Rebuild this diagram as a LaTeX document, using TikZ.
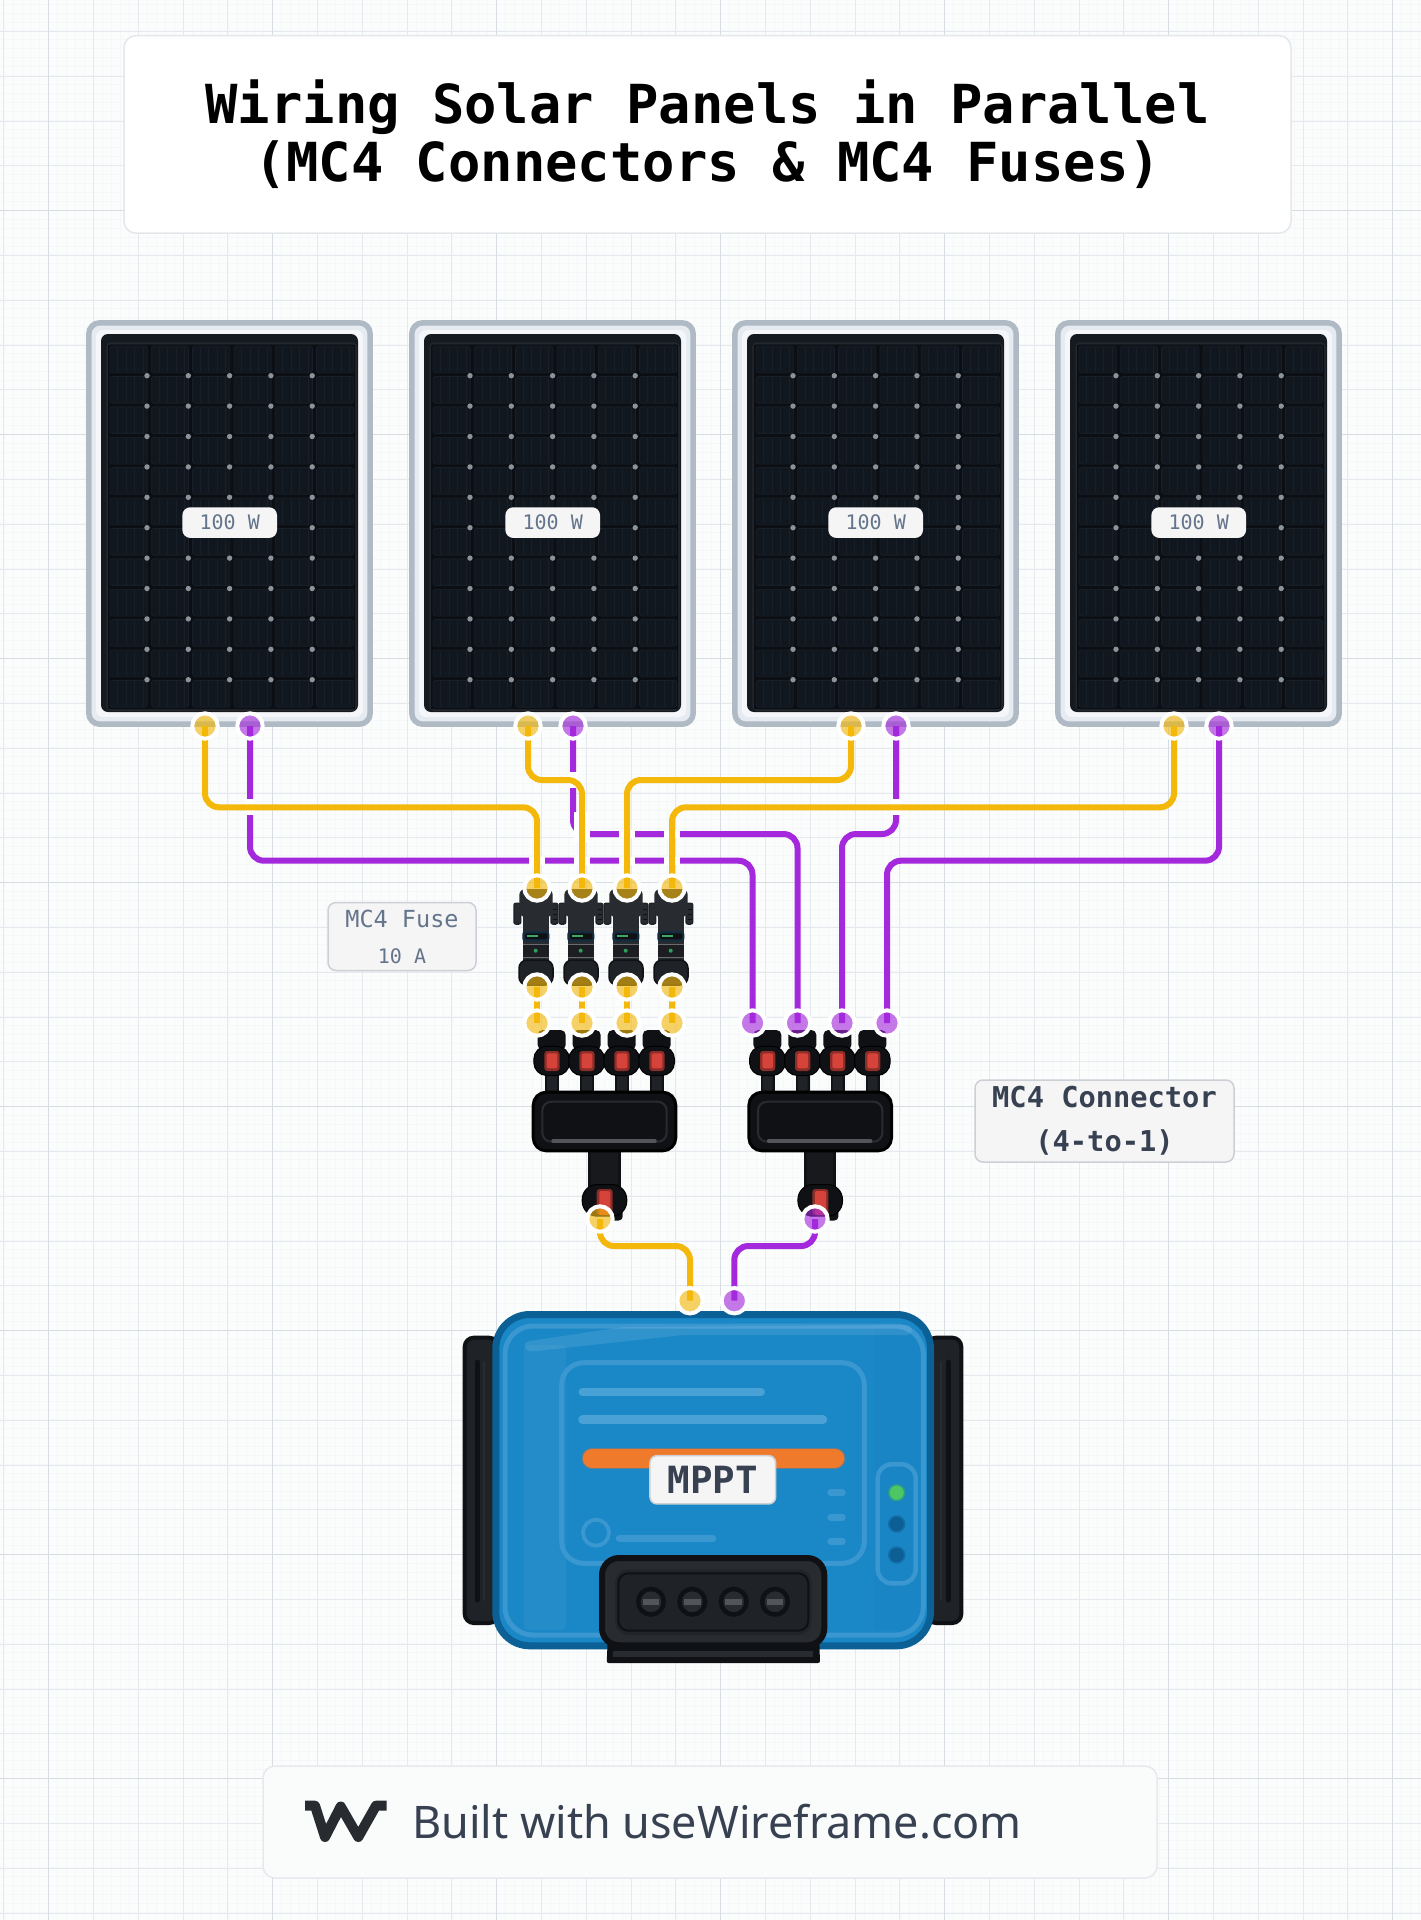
\documentclass[tikz,border=0pt]{standalone}
\usepackage{fontspec}
\setmainfont{Noto Sans}
\setmonofont{DejaVu Sans Mono}
\usetikzlibrary{backgrounds}
\definecolor{wirey}{HTML}{F4B80A}
\definecolor{wirep}{HTML}{A428DC}
\definecolor{slate}{HTML}{64748B}
\definecolor{ink}{HTML}{374151}
\definecolor{blk}{HTML}{0F1114}
\definecolor{blkm}{HTML}{1F2226}
\definecolor{blkb}{HTML}{282B30}
\definecolor{pagebg}{HTML}{FBFCFC}
\definecolor{gmin}{HTML}{F5F7F8}
\definecolor{gmed}{HTML}{E6E9ED}
\definecolor{gmaj}{HTML}{D8DDE3}
\definecolor{frameb}{HTML}{B0BAC4}
\definecolor{framea}{HTML}{E6EBF2}
\definecolor{framec}{HTML}{F4F6FA}
\definecolor{pdark}{HTML}{151A20}
\definecolor{pcell}{HTML}{11171F}
\definecolor{pcellb}{HTML}{181F28}
\definecolor{pframe}{HTML}{23272C}
\definecolor{pgap}{HTML}{0B0E12}
\definecolor{pdot}{HTML}{8A939B}
\definecolor{mblue}{HTML}{1A87C7}
\definecolor{mblueb}{HTML}{0B6096}
\definecolor{mline}{HTML}{3A97D0}
\definecolor{mpill}{HTML}{4AA1D5}
\definecolor{redo}{HTML}{8D2D28}
\definecolor{redi}{HTML}{D5433A}
\definecolor{orbar}{HTML}{EF7A2B}
\definecolor{orbarb}{HTML}{6B7D88}
\definecolor{ledg}{HTML}{4CC764}
\definecolor{ledgb}{HTML}{2A9C8E}
\definecolor{ledd}{HTML}{0D5E93}
\definecolor{boxf}{HTML}{F5F5F6}
\definecolor{boxb}{HTML}{CCD0D5}
\definecolor{fwin}{HTML}{142C3D}
\definecolor{fbar}{HTML}{3FA764}
\definecolor{fdot}{HTML}{2E9F5B}
\tikzset{
  gridmin/.style={draw=gmin,line width=0.6},
  gridmed/.style={draw=gmed,line width=1},
  gridmaj/.style={draw=gmaj,line width=1.4},
  ywire/.style={draw=wirey,line width=6,rounded corners=14},
  pwire/.style={draw=wirep,line width=6,rounded corners=14},
  gapmark/.style={draw=white,line width=10},
  gapwide/.style={draw=white,line width=16},
  termy/.style={circle,inner sep=0,outer sep=0,minimum size=25.4,draw=white,line width=4,fill=wirey,fill opacity=.62},
  termp/.style={circle,inner sep=0,outer sep=0,minimum size=25.4,draw=white,line width=4,fill=wirep,fill opacity=.62},
  tagbox/.style={rectangle,rounded corners=8,draw=boxb,line width=1.5,fill=boxf,inner sep=0,outer sep=0,align=center},
  wattbox/.style={rectangle,rounded corners=8,fill=boxf,text=slate,inner sep=0,outer sep=0,minimum width=94.7,minimum height=30.7,font=\fontsize{20}{24}\selectfont\ttfamily},
  cell/.style={fill=pcell,draw=pcellb,line width=0.8,rounded corners=2.5},
  pill/.style={line cap=round,draw=mpill,line width=6.5}
}
\begin{document}
\begin{tikzpicture}[x=1pt,y=-1pt]
\useasboundingbox (0,0) rectangle (1421,1920);
\node[rectangle,rounded corners=12,draw=gmaj!70!white,line width=1.5,fill=white,inner sep=0,outer sep=0,minimum width=1167,minimum height=197.5,align=center,font=\fontsize{53.8}{58}\selectfont\ttfamily\bfseries] (title) at (707.5,134.4) {Wiring Solar Panels in Parallel\\(MC4 Connectors \& MC4 Fuses)};
\node[rectangle,rounded corners=12,draw=gmed,line width=1.5,fill=gmin!50!white,inner sep=0,outer sep=0,minimum width=894,minimum height=112] (footer) at (710,1822) {};
\node[anchor=base west,inner sep=0,text=ink,font=\fontsize{44.9}{50}\selectfont] (builttext) at (412,1838) {Built with useWireframe.com};
\draw[line width=10,line join=round,draw=blkb] (305,1805.7) -- (315,1805.7) -- (325,1837) -- (340.7,1806.5) -- (358.3,1837) -- (376,1805.7) -- (386.7,1805.7);
\foreach \pn/\px in {1/0,2/323,3/646,4/969} {
  \node[wattbox] (watt\pn) at (229.7+\px,522.6) {100 W};
  \node[termy] (tpy\pn) at (205+\px,726) {};
  \node[termp] (tpp\pn) at (250+\px,726) {};
}
\foreach \i/\fx/\cx in {1/537/752.5,2/582/797.5,3/627/842,4/672/887} {
  \node[termy] (tfi\i) at (\fx,888) {};
  \node[termy] (tfo\i) at (\fx,987) {};
  \node[termy] (tcy\i) at (\fx,1023) {};
  \node[termp] (tcp\i) at (\cx,1023) {};
}
\node[termy] (touty) at (600,1219) {};
\node[termp] (toutp) at (815,1219) {};
\node[termy] (tmy) at (690,1300.7) {};
\node[termp] (tmp) at (734.3,1300.7) {};
\node[tagbox,text=slate,minimum width=148,minimum height=68,font=\fontsize{23.5}{36}\selectfont\ttfamily] (fuselabel) at (402,936.5) {MC4 Fuse\\{\fontsize{20}{36}\selectfont 10 A}};
\node[tagbox,text=ink,minimum width=259,minimum height=82,font=\fontsize{28.7}{44.4}\selectfont\ttfamily\bfseries] (connlabel) at (1104.5,1121) {MC4 Connector\\(4-to-1)};
\node[tagbox,rounded corners=7,text=ink,minimum width=125.7,minimum height=48.3,font=\fontsize{37.5}{40}\selectfont\ttfamily\bfseries] (mpptlabel) at (712.8,1479.8) {MPPT};

\begin{scope}[on background layer]
\fill[pagebg] (0,0) rectangle (1421,1920);
\foreach \k in {0,...,159} \draw[gridmin] (3.9+8.96*\k,0) -- (3.9+8.96*\k,1920);
\foreach \k in {0,...,214} \draw[gridmin] (0,3.9+8.96*\k) -- (1421,3.9+8.96*\k);
\foreach \k in {0,...,31} \draw[gridmed] (3.9+44.8*\k,0) -- (3.9+44.8*\k,1920);
\foreach \k in {0,...,42} \draw[gridmed] (0,31.4+44.8*\k) -- (1421,31.4+44.8*\k);
\foreach \k in {0,...,6} \draw[gridmaj] (48.7+224*\k,0) -- (48.7+224*\k,1920);
\foreach \k in {0,...,7} \draw[gridmaj] (0,210.6+224*\k) -- (1421,210.6+224*\k);

\foreach \px in {0,323,646,969} {
\begin{scope}[shift={(\px,0)}]
\draw[fill=framea,draw=frameb,line width=5.5,rounded corners=11] (88.8,322.8) rectangle (370.2,724.2);
\fill[framec,rounded corners=7] (96,330) rectangle (363,717);
\fill[pdark,rounded corners=7] (101,334) rectangle (358,712);
\draw[pframe,line width=1.5,rounded corners=4] (107,343) rectangle (356,710);
\fill[pgap] (108,345) rectangle (355,709);
\foreach \c in {0,...,5} \foreach \r in {0,...,11} {
  \draw[cell] (110+41.3*\c,346+30.4*\r) rectangle ++(37.3,26.7);
  \foreach \s in {7.5,16,24.5,33} \draw[pcellb,line width=0.6] (110+41.3*\c+\s,347+30.4*\r) -- ++(0,24.7);
}
\foreach \c in {0,...,4} \foreach \r in {0,...,10} \fill[pdot] (147+41.3*\c,375.7+30.4*\r) circle (2.7);
\end{scope}
}

\foreach \fx in {537,582,627,672} {
\begin{scope}[shift={(\fx,0)}]
\draw[fill=blkb,draw=blkm,line width=1.5,rounded corners=2] (-23,903.3) rectangle (-16.3,924);
\draw[fill=blkb,draw=blkm,line width=1.5,rounded corners=2] (14,903.3) rectangle (20.7,924);
\foreach \sy in {909,914,919} \draw[blk,line width=1] (15.5,\sy) -- (19.5,\sy);
\fill[blkb,rounded corners=6] (-17.7,889) rectangle (15.7,917);
\fill[blkb] (-14.3,912) rectangle (12.3,960);
\fill[blkb!70!black] (-14.3,945) rectangle (12.3,957);
\fill[fwin,rounded corners=3] (-14.7,931) rectangle (12.3,941.7);
\fill[blk,rounded corners=2] (-12,933.3) rectangle (10.3,939.3);
\fill[fbar] (-10.3,935) rectangle (1.3,937.3);
\draw[blkb!70!white,line width=1] (-14,944.3) -- (12,944.3);
\draw[blkb!70!white,line width=1] (-14,957.3) -- (12,957.3);
\fill[fdot] (-1.3,950.7) circle (2);
\draw[fill=blkm,draw=blk,line width=1.5,rounded corners=8] (-18,960) -- (16,960) -- (16,985) -- (-18,985) -- cycle;
\end{scope}
}

\foreach \gx in {0,215.7} {
\begin{scope}[shift={(\gx,0)}]
\foreach \c in {0,...,3} {
  \fill[blk] (545+35*\c,1040) rectangle ++(14,54);
  \fill[blkm,rounded corners=1] (547+35*\c,1075) rectangle ++(10,17);
  \fill[blk,rounded corners=5] (537.7+35*\c,1030) rectangle ++(28,20);
}
\foreach \c in {0,...,3} {
  \draw[fill=blk,draw=black,line width=1,rounded corners=13] (533.8+35*\c,1046.2) rectangle ++(35.7,29.3);
  \fill[redo,rounded corners=3] (544.3+35*\c,1051) rectangle ++(15.3,20);
  \fill[redi,rounded corners=2] (546.7+35*\c,1053.3) rectangle ++(10.7,15);
}
\draw[fill=blkm!50!blk,draw=blk,line width=3] (589.5,1147) rectangle (619.2,1190);
\fill[blk,rounded corners=4] (610,1208) rectangle (622.7,1220.5);
\draw[fill=blk,draw=black,line width=1,rounded corners=15] (582.2,1184.5) rectangle (626.8,1216.2);
\fill[redo,rounded corners=3] (596.7,1189) rectangle (612.7,1215);
\fill[redi,rounded corners=2] (599.3,1191) rectangle (610.3,1215);
\draw[fill=blk,draw=black,line width=3,rounded corners=13] (533.2,1092.2) rectangle (675.8,1150.8);
\draw[blkb,line width=2,rounded corners=9] (542.3,1101.7) rectangle (666.7,1141.7);
\draw[blkb!80!white,line width=3.5,line cap=round] (553,1141) -- (655,1141);
\end{scope}
}

\foreach \ax/\bx in {462.7/500,925/963.3} {
\draw[fill=blkm,draw=blk,line width=4,rounded corners=9] (\ax+2,1337.7) rectangle (\bx-2,1623);
}
\draw[blk,line width=5,line cap=round] (477,1362) -- (477,1600);
\draw[blkb,line width=2.5,line cap=round] (484,1362) -- (484,1600);
\draw[blkb,line width=2.5,line cap=round] (941,1362) -- (941,1600);
\draw[blk,line width=5,line cap=round] (948,1362) -- (948,1600);
\draw[fill=mblue,draw=mblueb,line width=7,rounded corners=34] (495.8,1314.5) rectangle (930.5,1645.8);
\fill[mblue!96!white,rounded corners=4] (524,1345) rectangle (566,1630);
\fill[mblue!95!mblueb] (874,1330) rectangle (922,1630);
\draw[mline,line width=5,rounded corners=28] (505,1326) rectangle (923.3,1635);
\fill[white,fill opacity=.1,rounded corners=5] (523,1342) -- (623,1327) -- (912,1325) -- (912,1335) -- (683,1335) -- (527,1352) -- cycle;
\draw[mline,line width=5,rounded corners=22] (561.7,1362.7) rectangle (864.3,1563.3);
\draw[pill,line width=8] (582.5,1392) -- (761,1392);
\draw[pill,line width=8.5] (582.5,1419.7) -- (823,1419.7);
\draw[pill,draw=orbarb,line width=21] (592,1458.3) -- (835,1458.3);
\draw[pill,draw=orbar,line width=18.5] (592,1458.3) -- (835,1458.3);
\foreach \by in {1492.7,1517.3,1541.3} \draw[pill,draw=mline] (830.5,\by) -- (842.5,\by);
\draw[mline,line width=3.8] (596,1532.7) circle (13);
\draw[pill,draw=mline] (619,1538.3) -- (713,1538.3);
\draw[fill=mblue!94!mblueb,draw=mline,line width=4.5,rounded corners=14] (877.7,1464.3) rectangle (915.7,1583.3);
\draw[fill=ledg,draw=ledgb,line width=1.5] (896.7,1492.7) circle (8);
\draw[fill=ledd,draw=mblueb!60!mblue,line width=1.5] (896.7,1524) circle (8);
\draw[fill=ledd,draw=mblueb!60!mblue,line width=1.5] (896.7,1555) circle (8);
\fill[blk,rounded corners=2] (607.7,1640) -- (819.3,1640) -- (820,1663) -- (606.7,1663) -- cycle;
\fill[blkb] (613.3,1650.7) rectangle (813.3,1656.7);
\draw[fill=blkb,draw=blk,line width=6,rounded corners=17] (602,1558) rectangle (824.3,1645.3);
\fill[blkb!85!black,rounded corners=13] (615,1569.3) rectangle (811.7,1635);
\draw[fill=blkm,draw=blk,line width=2,rounded corners=10] (618.3,1573.3) rectangle (808.3,1630.7);
\foreach \sx in {651,692.3,733.7,775} {
  \draw[fill=blkb,draw=blk,line width=4.5] (\sx,1601.7) circle (12.8);
  \draw[blkb!80!white,line width=6] (\sx-8.3,1601.7) -- (\sx+8.3,1601.7);
}

\draw[pwire] (tpp1.center) -- ++(0,134.7) -| (tcp1.center);
\draw[pwire] (tpp2.center) -- ++(0,108) -| (tcp2.center);
\draw[pwire] (tpp3.center) -- ++(0,108) -| (tcp3.center);
\draw[pwire] (tpp4.center) -- ++(0,134.7) -| (tcp4.center);
\draw[pwire] (toutp.center) -- ++(0,27) -| (tmp.center);
\foreach \gapx in {537,582,627,672} \draw[gapwide] (\gapx,857) -- (\gapx,865);
\foreach \gapx in {627,672} \draw[gapwide] (\gapx,830) -- (\gapx,838);
\draw[gapwide] (582,812) -- (582,842);
\foreach \gapx/\gapy in {250/807.3,896/807.3,573/780} \draw[gapmark] (\gapx,\gapy-8) -- (\gapx,\gapy+8);
\draw[ywire] (tpy1.center) -- ++(0,81.3) -| (tfi1.center);
\draw[ywire] (tpy2.center) -- ++(0,54) -| (tfi2.center);
\draw[ywire] (tpy3.center) -- ++(0,54) -| (tfi3.center);
\draw[ywire] (tpy4.center) -- ++(0,81.3) -| (tfi4.center);
\foreach \i in {1,...,4} \draw[ywire] (tfo\i.center) -- (tcy\i.center);
\draw[ywire] (touty.center) -- ++(0,27) -| (tmy.center);
\end{scope}
\end{tikzpicture}
\end{document}
